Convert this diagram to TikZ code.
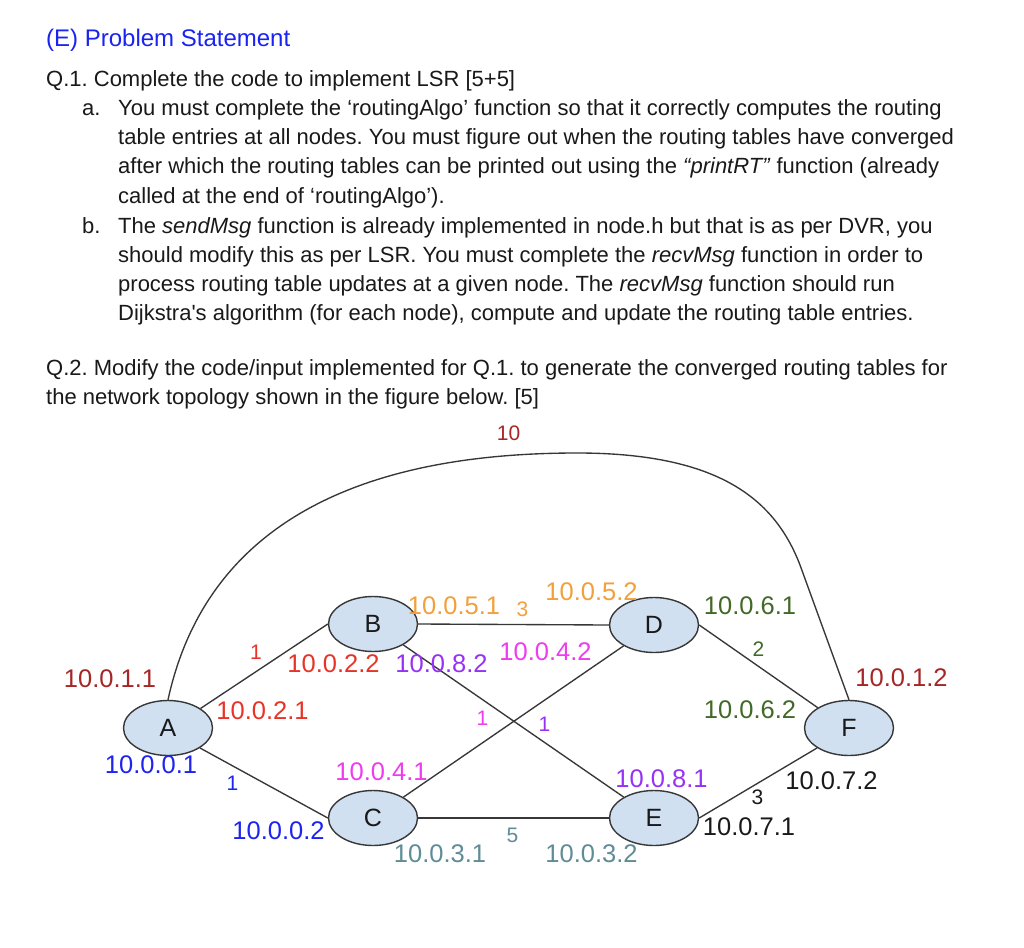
\documentclass[tikz,border=0pt]{standalone}
\usepackage{fontspec}
\setmainfont{Liberation Sans}
\usetikzlibrary{shapes.geometric}
\definecolor{titleblue}{RGB}{26,35,240}
\definecolor{darkred}{RGB}{166,38,38}
\definecolor{ipred}{RGB}{232,52,40}
\definecolor{ipblue}{RGB}{30,36,240}
\definecolor{ipmag}{RGB}{238,60,238}
\definecolor{ippurple}{RGB}{150,50,245}
\definecolor{iporange}{RGB}{242,160,60}
\definecolor{ipgreen}{RGB}{65,105,40}
\definecolor{ipteal}{RGB}{95,140,150}
\definecolor{nodefill}{RGB}{208,224,241}
\definecolor{edgegray}{RGB}{55,55,55}
\definecolor{textblack}{RGB}{25,25,25}
\frenchspacing
\begin{document}
\begin{tikzpicture}[x=1pt,y=-1pt,
  router/.style={ellipse, draw=edgegray, line width=1.4pt, fill=nodefill,
    minimum width=89pt, minimum height=55pt, inner sep=0pt,
    font=\fontsize{25}{25}\selectfont, text=textblack},
  link/.style={draw=edgegray, line width=1.35pt},
  ip/.style={inner sep=0pt, font=\fontsize{25.5}{25.5}\selectfont},
  wt/.style={inner sep=0pt, font=\fontsize{21}{21}\selectfont},
  body/.style={anchor=base west, inner sep=0pt, font=\fontsize{22}{29}\selectfont, text=textblack},
]
\useasboundingbox (0,0) rectangle (1024,947);
\fill[white] (0,0) rectangle (1024,947);

% ---- text ----
\node[body, text=titleblue, font=\fontsize{24}{29}\selectfont] (title) at (46,47) {(E) Problem Statement};
\node[body] (q1) at (46,87) {Q.1. Complete the code to implement LSR [5+5]};
\node[body] (la) at (82,115) {a.};
\node[body] (a1) at (118,115) {You must complete the ‘routingAlgo’ function so that it correctly computes the routing};
\node[body] (a2) at (118,144.3) {table entries at all nodes. You must figure out when the routing tables have converged};
\node[body] (a3) at (118,173.6) {after which the routing tables can be printed out using the \textit{“printRT”} function (already};
\node[body] (a4) at (118,203) {called at the end of ‘routingAlgo’).};
\node[body] (lb) at (82,233) {b.};
\node[body] (b1) at (118,233) {The \textit{sendMsg} function is already implemented in node.h but that is as per DVR, you};
\node[body] (b2) at (118,262) {should modify this as per LSR. You must complete the \textit{recvMsg} function in order to};
\node[body] (b3) at (118,291) {process routing table updates at a given node. The \textit{recvMsg} function should run};
\node[body] (b4) at (118,320) {Dijkstra\textquotesingle s algorithm (for each node), compute and update the routing table entries.};
\node[body] (q2a) at (46,375) {Q.2. Modify the code/input implemented for Q.1. to generate the converged routing tables for};
\node[body] (q2b) at (46,404) {the network topology shown in the figure below. [5]};

% ---- router positions (drawn after the links) ----
\coordinate (pA) at (168,728);
\coordinate (pB) at (373,624);
\coordinate (pC) at (373,818);
\coordinate (pD) at (654,625);
\coordinate (pE) at (654,818);
\coordinate (pF) at (849,728);
\begin{scope}[every node/.style={router, draw=none, fill=none, text opacity=0}]
\node (A) at (pA) {A};
\node (B) at (pB) {B};
\node (C) at (pC) {C};
\node (D) at (pD) {D};
\node (E) at (pE) {E};
\node (F) at (pF) {F};
\end{scope}

% ---- links ----
\coordinate (topk) at (577,453);
\coordinate (bend) at (800,565);
\draw[link] (A.north) .. controls (205,530) and (350,453) .. (topk)
  .. controls (720,453) and (775,500) .. (bend) -- (F.north);
\draw[link] (A.31) -- (B.west);
\draw[link] (A.-32) -- (C.west);
\draw[link] (B.east) -- (D.west);
\draw[link] (C.east) -- (E.west);
\draw[link] (B) -- (E);
\draw[link] (C) -- (D);
\draw[link] (D.east) -- (F.147);
\draw[link] (E.east) -- (F.212);

% ---- routers on top of the links ----
\node[router] (rA) at (pA) {A};
\node[router] (rB) at (pB) {B};
\node[router] (rC) at (pC) {C};
\node[router] (rD) at (pD) {D};
\node[router] (rE) at (pE) {E};
\node[router] (rF) at (pF) {F};

% ---- labels ----
\node[wt, text=darkred] (w10) at (508.5,433) {10};
\node[ip, text=darkred] (ipA1) at (110,679) {10.0.1.1};
\node[ip, text=darkred] (ipF1) at (901.5,677.5) {10.0.1.2};

\node[wt, text=ipred] (wAB) at (256,652.5) {1};
\node[ip, text=ipred] (ipB2) at (333.5,664) {10.0.2.2};
\node[ip, text=ipred] (ipA2) at (262.5,711) {10.0.2.1};

\node[ip, text=ipblue] (ipA0) at (151,765) {10.0.0.1};
\node[wt, text=ipblue] (wAC) at (232.5,783.5) {1};
\node[ip, text=ipblue] (ipC0) at (278.5,830.5) {10.0.0.2};

\node[ip, text=ipmag] (ipC4) at (381.5,772) {10.0.4.1};
\node[wt, text=ipmag] (wCD) at (482.5,718.5) {1};
\node[ip, text=ipmag] (ipD4) at (545.5,652) {10.0.4.2};

\node[ip, text=ippurple] (ipB8) at (441.5,664) {10.0.8.2};
\node[wt, text=ippurple] (wBE) at (544.5,724.5) {1};
\node[ip, text=ippurple] (ipE8) at (661.5,778.5) {10.0.8.1};

\node[ip, text=iporange] (ipB5) at (454,605.5) {10.0.5.1};
\node[wt, text=iporange] (wBD) at (522.5,609.5) {3};
\node[ip, text=iporange] (ipD5) at (591.5,592) {10.0.5.2};

\node[ip, text=ipgreen] (ipD6) at (750,606) {10.0.6.1};
\node[wt, text=ipgreen] (wDF) at (758.5,649.5) {2};
\node[ip, text=ipgreen] (ipF6) at (750,710) {10.0.6.2};

\node[ip, text=textblack] (ipF7) at (831.5,780.5) {10.0.7.2};
\node[wt, text=textblack] (wEF) at (757.5,797) {3};
\node[ip, text=textblack] (ipE7) at (749,827) {10.0.7.1};

\node[ip, text=ipteal] (ipC3) at (440,854) {10.0.3.1};
\node[wt, text=ipteal] (wCE) at (512.5,835.5) {5};
\node[ip, text=ipteal] (ipE3) at (591.5,854) {10.0.3.2};
\end{tikzpicture}
\end{document}
